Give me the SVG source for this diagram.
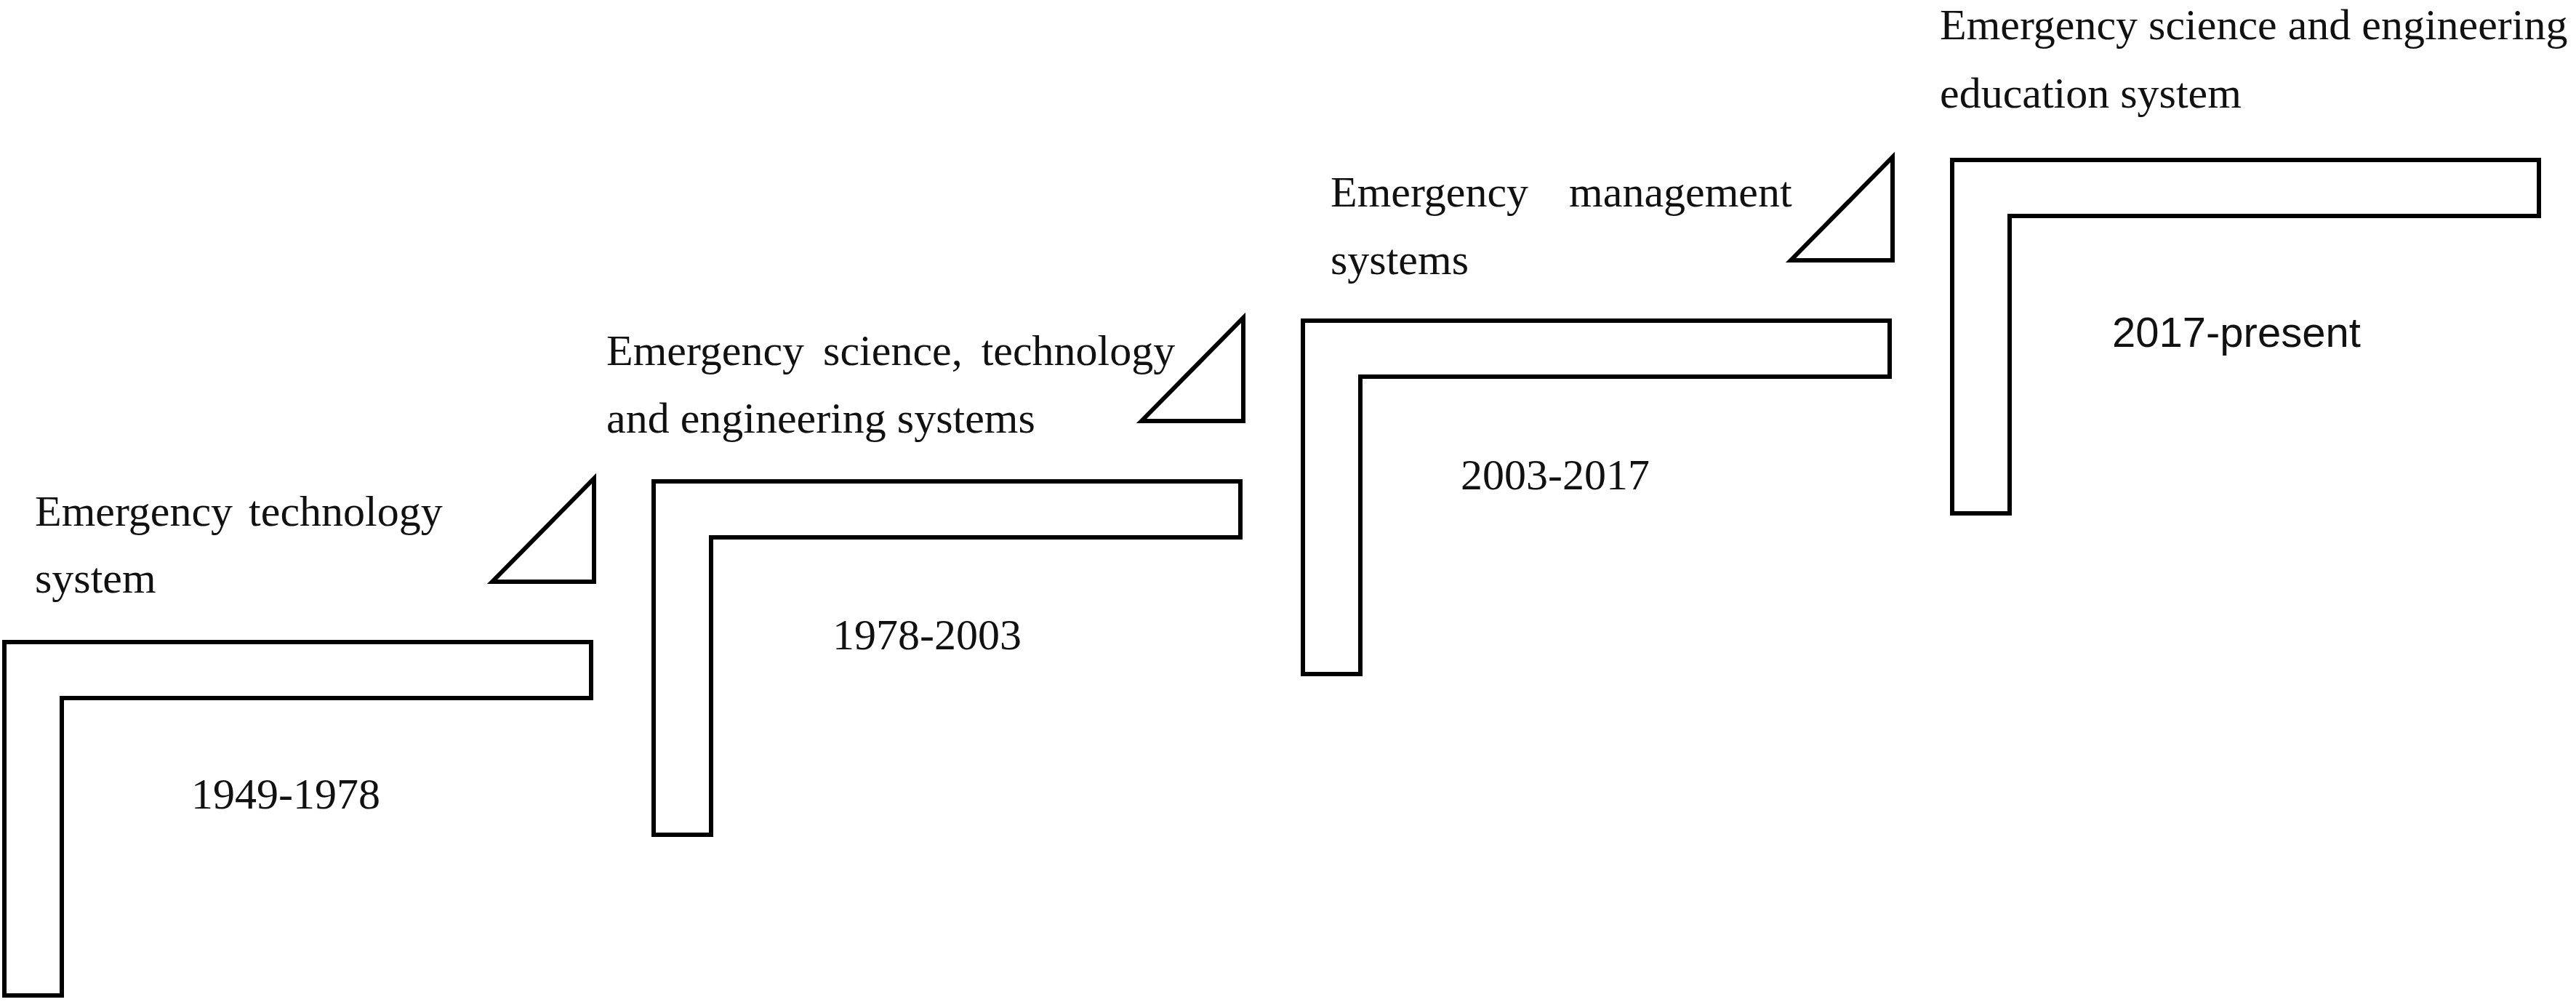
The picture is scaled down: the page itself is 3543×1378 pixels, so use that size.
<svg xmlns="http://www.w3.org/2000/svg" width="3543" height="1378" viewBox="0 0 3543 1378">
<style>
.step{fill:#fff;stroke:#000;stroke-width:6;stroke-linejoin:miter}
.tri{fill:#fff;stroke:#000;stroke-width:6;stroke-linejoin:miter}
.lbl{font-family:"Liberation Serif","Times New Roman",serif;font-size:60px;fill:#111}
.yr{font-family:"Liberation Serif","Times New Roman",serif;font-size:60px;fill:#111}
.yrs{font-family:"Liberation Sans",Arial,sans-serif;font-size:58px;fill:#111}
</style>
<rect width="3543" height="1378" fill="#fff"/>
<g id="stage1">
<path class="step" d="M6,883 H813 V960 H85 V1369 H6 Z"/>
<text class="lbl" x="48" y="723" word-spacing="7">Emergency technology</text>
<text class="lbl" x="48" y="815">system</text>
<text class="yr" x="263" y="1112">1949-1978</text>
</g>
<g id="stage2">
<path class="step" d="M899,662 H1706 V739 H978 V1148 H899 Z"/>
<text class="lbl" x="834" y="502" word-spacing="11">Emergency science, technology</text>
<text class="lbl" x="834" y="595">and engineering systems</text>
<text class="yr" x="1145" y="893">1978-2003</text>
</g>
<g id="stage3">
<path class="step" d="M1792,441 H2599 V518 H1871 V927 H1792 Z"/>
<text class="lbl" x="1830" y="284" word-spacing="41">Emergency management</text>
<text class="lbl" x="1830" y="377">systems</text>
<text class="yr" x="2009" y="673">2003-2017</text>
</g>
<g id="stage4">
<path class="step" d="M2685,220 H3492 V297 H2764 V706 H2685 Z"/>
<text class="lbl" x="2668" y="54">Emergency science and engineering</text>
<text class="lbl" x="2668" y="148">education system</text>
<text class="yrs" x="2905" y="477">2017-present</text>
</g>
<g id="connectors">
<path class="tri" d="M677,800 L817,658 V800 Z"/>
<path class="tri" d="M1570,579 L1710,437 V579 Z"/>
<path class="tri" d="M2463,358 L2603,216 V358 Z"/>
</g>
</svg>
